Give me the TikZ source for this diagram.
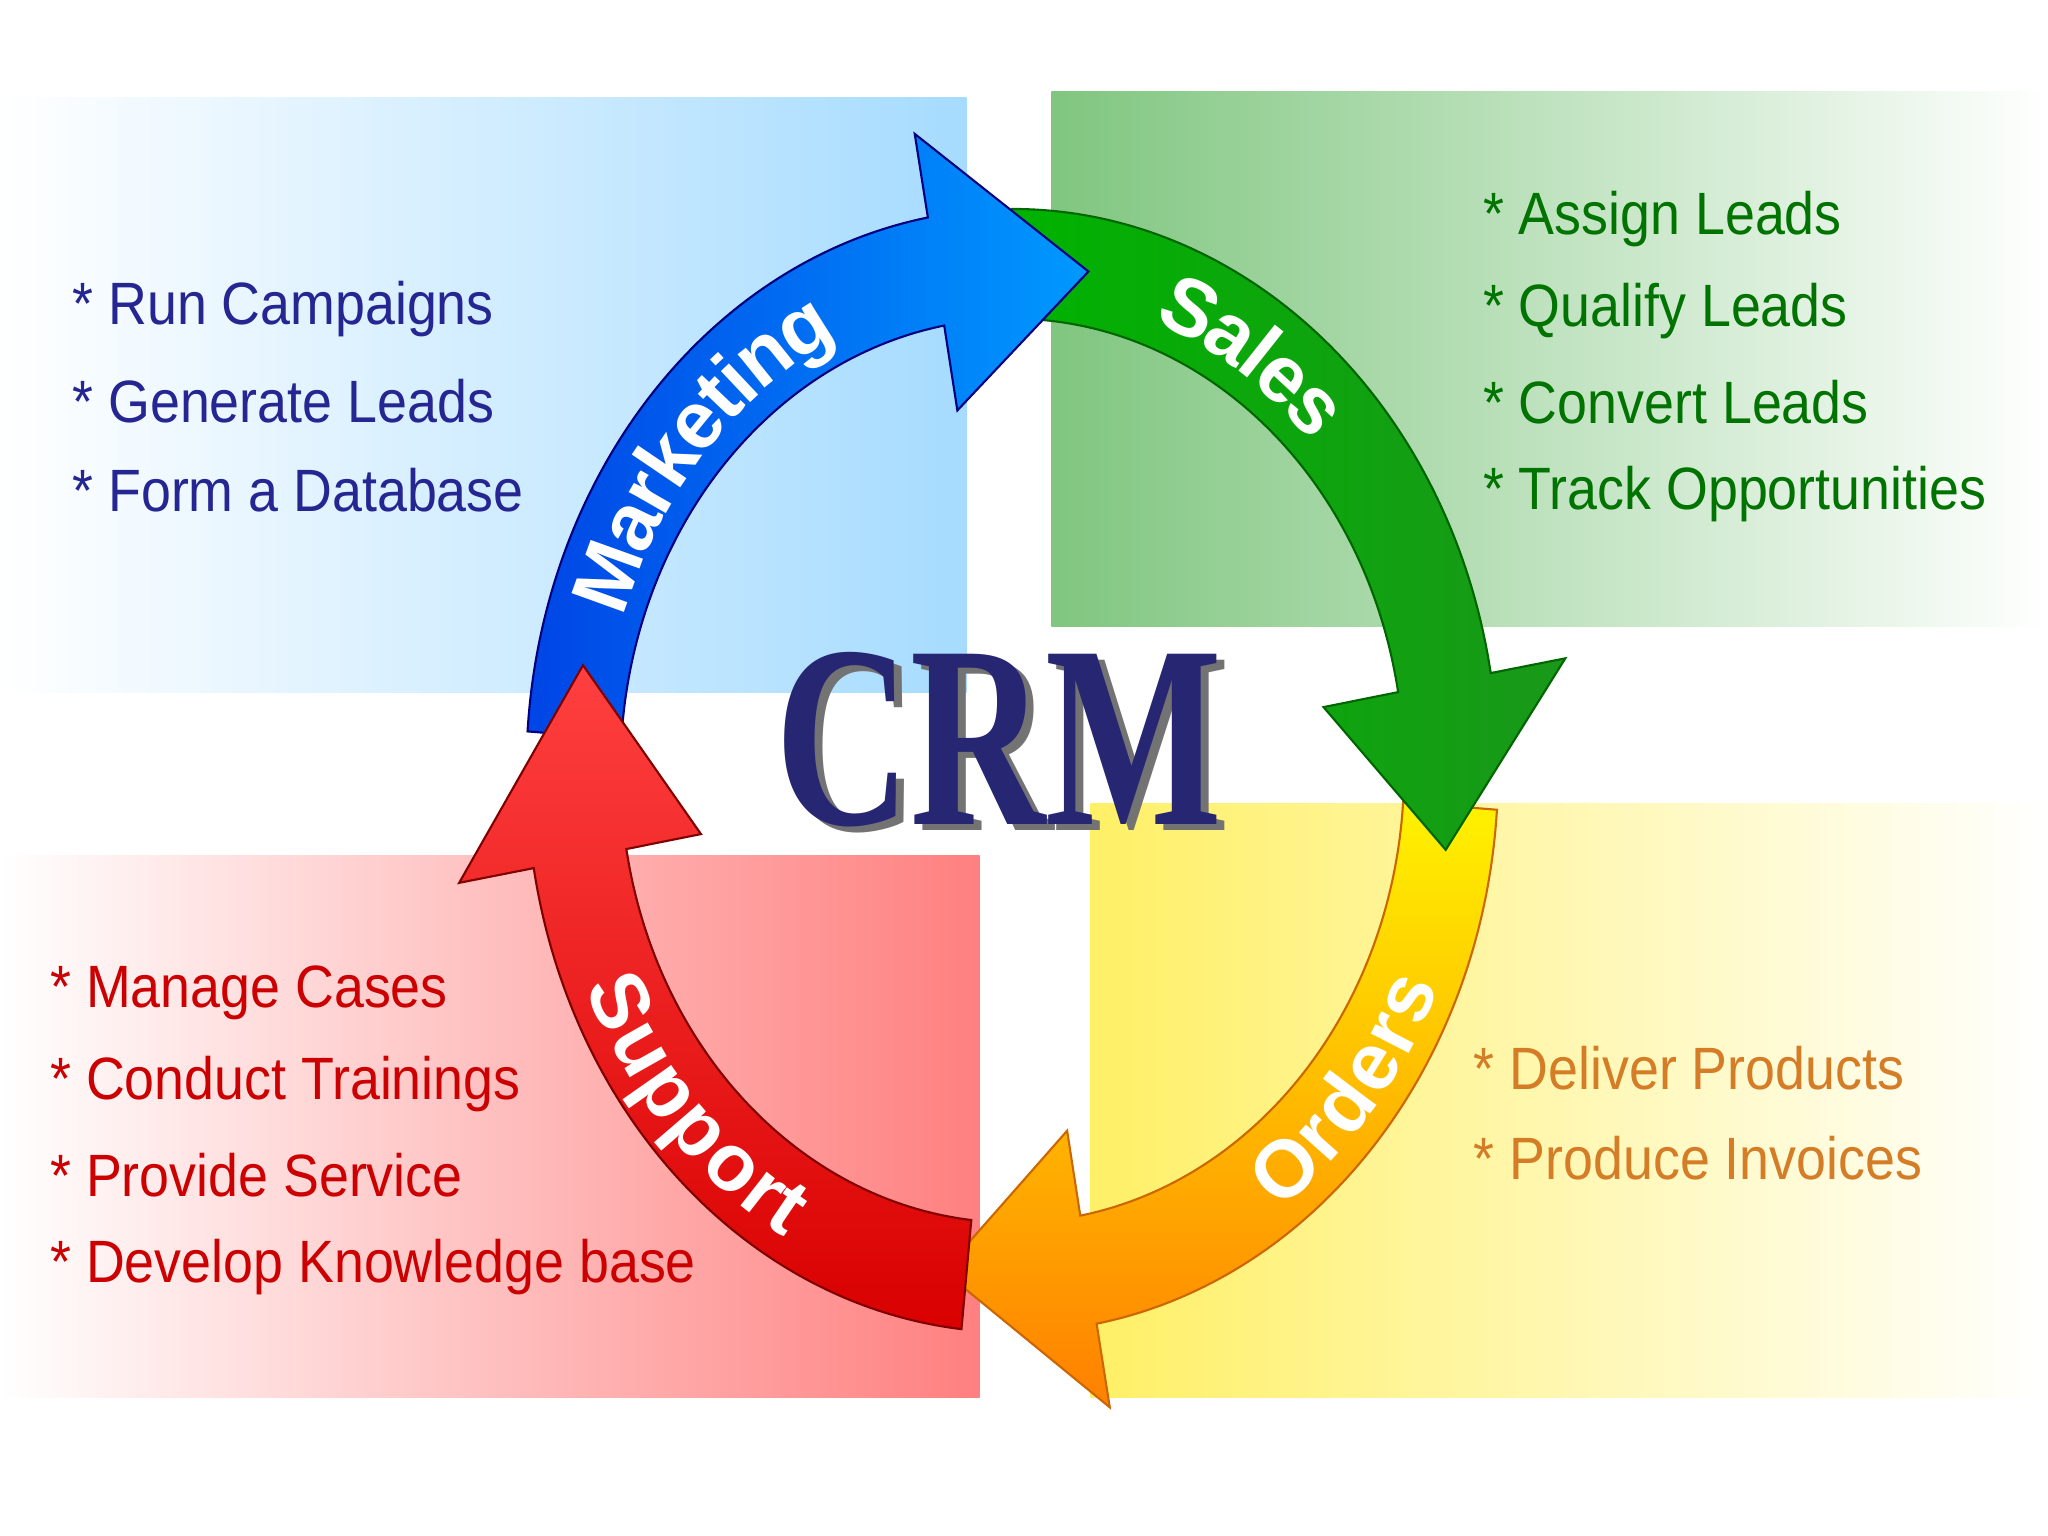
\documentclass[tikz,border=0pt]{standalone}
\usepackage{fontspec}
\setmainfont{Liberation Sans}
\newfontfamily\crmfont{Liberation Serif}
\usetikzlibrary{calc,decorations.text}
\tikzset{
 lst/.style={anchor=west,font=\fontsize{17}{20}\selectfont,inner sep=0pt,xscale=0.9},
 lbl/.style={decorate,decoration={text along path,text align=center,raise=-8pt,
   text color=white,text={|\fontsize{23}{25}\selectfont\bfseries|#1}}}
}
\newcommand\ringarrow[4]{%
\path[#4] ($(C)+(#1:372 and 430)$) arc[start angle=#1,end angle=#2,x radius=372,y radius=430] -- ($(C)+(#2:430 and 495)$) -- ($(C)+(#3:336 and 388)$) -- ($(C)+(#2:242 and 280)$) -- ($(C)+(#2:300 and 346)$) arc[start angle=#2,end angle=#1,x radius=300,y radius=346] -- cycle;}
\begin{document}
\begin{tikzpicture}[x=0.013061cm,y=0.013061cm]
\useasboundingbox (0,0) rectangle (1568,1176);
\fill[white] (0,0) rectangle (1568,1176);
\coordinate (C) at (775,586);
% bands
\shade[left color=white,right color=blue!40!cyan!35] (0,646) rectangle (740,1101);
\shade[left color=green!55!black!50,right color=white] (805,696) rectangle (1568,1106);
\shade[left color=yellow!80!orange!60,right color=white] (835,106) rectangle (1568,561);
\shade[left color=white,right color=red!50] (0,106) rectangle (750,521);
% arrows
\ringarrow{-4}{-80}{-99}{shade,top color=yellow!90!orange,bottom color=orange,draw=orange!80!black,line width=0.6pt}
\ringarrow{90}{10}{-9}{shade,left color=green!70!black,right color=green!55!black!90,draw=green!40!black,line width=0.6pt}
\ringarrow{176}{100}{80}{shade,left color=blue!70!cyan!90!black,right color=cyan!60!blue,draw=blue!50!black,line width=0.6pt}
\ringarrow{264}{190}{168}{shade,top color=red!75,bottom color=red!85!black,draw=red!50!black,line width=0.6pt}
% labels
\path[lbl=Marketing] ($(C)+(168:336 and 388)$) arc[start angle=168,end angle=108,x radius=336,y radius=388];
\path[lbl=Sales] ($(C)+(75:336 and 388)$) arc[start angle=75,end angle=38,x radius=336,y radius=388];
\path[lbl=Orders] ($(C)+(-62:336 and 388)$) arc[start angle=-62,end angle=-18,x radius=336,y radius=388];
\path[lbl=Support] ($(C)+(196:336 and 388)$) arc[start angle=196,end angle=250,x radius=336,y radius=388];
% CRM
\node[font=\crmfont\bfseries\fontsize{74}{74}\selectfont,text=black!55,xscale=0.72] at (771,605) {CRM};
\node[font=\crmfont\bfseries\fontsize{74}{74}\selectfont,text=blue!35!black!85,xscale=0.72] (crm) at (765,610) {CRM};
% lists
\node[lst,text=blue!50!black!85] (m1) at (55,939) {* Run Campaigns};
\node[lst,text=blue!50!black!85] (m2) at (55,869) {* Generate Leads};
\node[lst,text=blue!50!black!85] (m3) at (55,801) {* Form a Database};
\node[lst,text=green!45!black] (s1) at (1135,1008) {* Assign Leads};
\node[lst,text=green!45!black] (s2) at (1135,938) {* Qualify Leads};
\node[lst,text=green!45!black] (s3) at (1135,868) {* Convert Leads};
\node[lst,text=green!45!black] (s4) at (1135,798) {* Track Opportunities};
\node[lst,text=orange!80!black!85] (o1) at (1128,358) {* Deliver Products};
\node[lst,text=orange!80!black!85] (o2) at (1128,289) {* Produce Invoices};
\node[lst,text=red!80!black] (r1) at (38,416) {* Manage Cases};
\node[lst,text=red!80!black] (r2) at (38,346) {* Conduct Trainings};
\node[lst,text=red!80!black] (r3) at (38,276) {* Provide Service};
\node[lst,text=red!80!black] (r4) at (38,206) {* Develop Knowledge base};
\end{tikzpicture}
\end{document}
